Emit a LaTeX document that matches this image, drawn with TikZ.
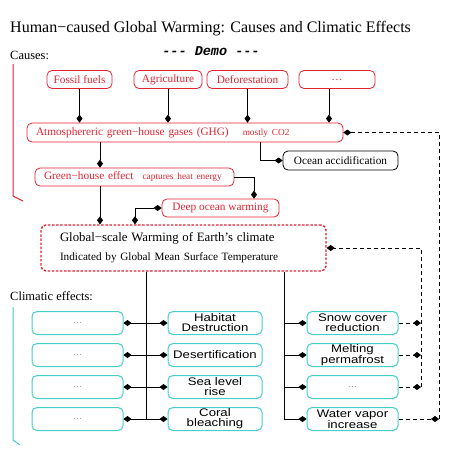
\documentclass[tikz,border=0pt]{standalone}
\usepackage{fontspec}
\setmainfont{Liberation Serif}
\newfontfamily\effectfont[FakeStretch=1.2]{Liberation Sans}
\newfontfamily\demofont{Liberation Mono}
\usepackage{xcolor}
\usepackage{tikz}
\usetikzlibrary{arrows.meta}
\definecolor{causered}{RGB}{225,35,50}
\definecolor{effectcyan}{RGB}{70,205,205}
\newcommand{\dotsmark}{{\color{gray}\fontsize{8}{8}\selectfont\dots}}
\tikzset{
    causebox/.style={rectangle, draw=causered, text=causered, rounded corners=5pt, line width=0.8pt, inner sep=0pt, minimum height=18pt, font=\fontsize{11.3}{13}\selectfont},
    effectbox/.style={rectangle, draw=effectcyan, rounded corners=5pt, line width=1pt, inner sep=0pt, minimum height=23pt, align=center, font=\effectfont\fontsize{11}{10}\selectfont},
    arrowlink/.style={-{Kite[length=8pt,width=6pt,inset=4pt]}, line width=0.7pt},
    bothlink/.style={{Kite[length=8pt,width=6pt,inset=4pt]}-{Kite[length=8pt,width=6pt,inset=4pt]}, line width=0.7pt},
    feedback/.style={arrowlink, dash pattern=on 4pt off 3pt},
    heading/.style={anchor=base west, inner sep=0pt, font=\fontsize{12.5}{14}\selectfont},
}

\begin{document}
\begin{tikzpicture}[x=1pt, y=-1pt]
    \useasboundingbox (0,0) rectangle (450,450);
    \node(title) [heading, font=\fontsize{16}{18}\selectfont] at (10,32) {Human−caused Global Warming: Causes and Climatic Effects};
    \node(causes) [heading] at (10,59) {Causes:};
    \node(demo) [anchor=base, inner sep=0pt, font=\demofont\bfseries\itshape\fontsize{13.5}{15}\selectfont] at (211,55) {-{}-{}- Demo -{}-{}-};
    \node(effects) [heading] at (10,300) {Climatic effects:};

    \node(fossil) [causebox, minimum width=65pt] at (79.5,79.5) {Fossil fuels};
    \node(agri) [causebox, minimum width=68pt] at (168,79.5) {Agriculture};
    \node(defor) [causebox, minimum width=81pt] at (247.5,79.5) {Deforestation};
    \node(morecause) [causebox, minimum width=76pt] at (337,79.5) {\dots};
    \node(ghg) [causebox, minimum height=19pt, text width=298pt, inner xsep=9pt, align=left] at (185,132.5) {\mbox{Atmosphereric green−house gases (GHG)\hspace{14pt}{\fontsize{9.3}{11}\selectfont mostly CO2}}};
    \node(acid) [causebox, draw=black, text=black, minimum width=115pt, minimum height=19pt] at (340.5,160.5) {Ocean accidification};
    \node(greenhouse) [causebox, text width=181pt, inner xsep=9pt, align=left] at (134.5,177) {\mbox{Green−house effect\hspace{9pt}{\fontsize{9.3}{11}\selectfont captures heat energy}}};
    \node(deep) [causebox, minimum width=117pt] at (220.5,208) {Deep ocean warming};
    \node(global) [rectangle, draw=causered, line width=1.4pt, dash pattern=on 2.5pt off 1.6pt, rounded corners=5pt, minimum height=46pt, text width=247pt, inner xsep=19pt, inner ysep=0pt, align=left, font=\fontsize{11.2}{19}\selectfont] at (183.5,248) {{\fontsize{12.8}{19}\selectfont Global−scale Warming of Earth’s climate}\\Indicated by Global Mean Surface Temperature};

    \coordinate (ghline) at (100,0);
    \coordinate (acidline) at (260,0);
    \coordinate (deepline) at (254,0);
    \coordinate (backline) at (135,0);
    \coordinate (leftspine) at (146,0);
    \coordinate (rightspine) at (284,0);
    \coordinate (innerloop) at (421,0);
    \coordinate (outerloop) at (439,0);

    \draw[arrowlink] (fossil.south) -- (fossil.south |- ghg.north);
    \draw[arrowlink] (agri.south) -- (agri.south |- ghg.north);
    \draw[arrowlink] (defor.south) -- (defor.south |- ghg.north);
    \draw[arrowlink] ([xshift=-8pt]morecause.south) -- ([xshift=-8pt]morecause.south |- ghg.north);
    \draw[arrowlink] (ghline |- ghg.south) -- (ghline |- greenhouse.north);
    \draw[arrowlink] (acidline |- ghg.south) |- (acid.west);
    \draw[arrowlink] (greenhouse.east) -| (deepline |- deep.north);
    \draw[arrowlink] (ghline |- greenhouse.south) -- (ghline |- global.north);
    \draw[bothlink] (deep.west) -| (backline |- global.north);

    \node(dots1) [effectbox, minimum width=91pt] at (77.5,323) {\dotsmark};
    \node(dots2) [effectbox, minimum width=91pt] at (77.5,355) {\dotsmark};
    \node(dots3) [effectbox, minimum width=91pt] at (77.5,387) {\dotsmark};
    \node(dots4) [effectbox, minimum width=91pt] at (77.5,419) {\dotsmark};
    \node(habitat) [effectbox, minimum width=94pt] at (215,323) {Habitat\\Destruction};
    \node(desert) [effectbox, minimum width=94pt] at (215,355) {Desertification};
    \node(sealevel) [effectbox, minimum width=94pt] at (215,387) {Sea level\\rise};
    \node(coral) [effectbox, minimum width=94pt] at (215,419) {Coral\\bleaching};
    \node(snow) [effectbox, minimum width=91pt] at (352.5,323) {Snow cover\\reduction};
    \node(permafrost) [effectbox, minimum width=91pt] at (352.5,355) {Melting\\permafrost};
    \node(moreeffect) [effectbox, minimum width=91pt] at (352.5,387) {\dotsmark};
    \node(vapor) [effectbox, minimum width=91pt] at (352.5,419) {Water vapor\\increase};

    \draw[line width=0.7pt] (leftspine |- global.south) -- (leftspine |- coral.west);
    \draw[line width=0.7pt] (rightspine |- global.south) -- (rightspine |- vapor.west);
    \draw[bothlink] (dots1.east) -- (habitat.west);
    \draw[bothlink] (dots2.east) -- (desert.west);
    \draw[bothlink] (dots3.east) -- (sealevel.west);
    \draw[bothlink] (dots4.east) -- (coral.west);
    \draw[arrowlink] (rightspine |- snow.west) -- (snow.west);
    \draw[arrowlink] (rightspine |- permafrost.west) -- (permafrost.west);
    \draw[arrowlink] (rightspine |- moreeffect.west) -- (moreeffect.west);
    \draw[arrowlink] (rightspine |- vapor.west) -- (vapor.west);
    \draw[feedback] (snow.east) -- (innerloop |- snow.east);
    \draw[feedback] (permafrost.east) -- (innerloop |- permafrost.east);
    \draw[feedback] (moreeffect.east) -- (innerloop |- moreeffect.east);
    \draw[feedback] (vapor.east) -- (outerloop |- vapor.east);
    \draw[feedback] (innerloop |- moreeffect.east) |- (global.east);
    \draw[feedback] (outerloop |- vapor.east) |- (ghg.east);

    \draw[causered, line width=1pt] (13,64) -- (13,196) -- (23,201);
    \draw[effectcyan, line width=1pt] (13,307) -- (13,440) -- (20,445);
\end{tikzpicture}
\end{document}
